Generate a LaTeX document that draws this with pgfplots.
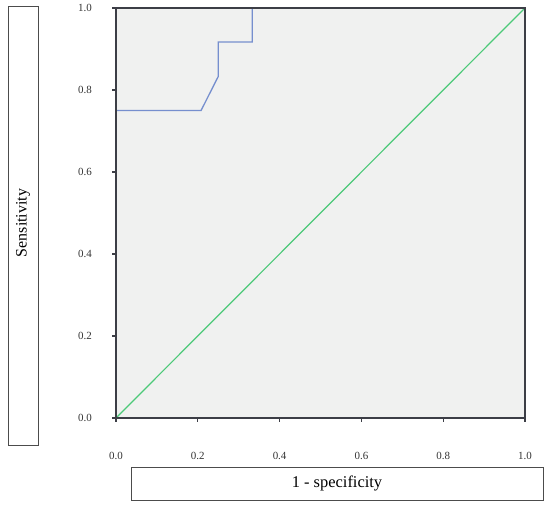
\documentclass[border=0pt]{standalone}
\usepackage{fontspec}
\setmainfont{Liberation Serif}
\usepackage{pgfplots}
\pgfplotsset{compat=1.18}
\definecolor{bgc}{RGB}{240,241,240}
\definecolor{roc}{RGB}{118,143,206}
\definecolor{ref}{RGB}{76,201,120}
\definecolor{frame}{RGB}{60,62,70}
\begin{document}
\begin{tikzpicture}[x=1bp,y=1bp]
\path[use as bounding box] (0,0) rectangle (550,506);
\begin{axis}[
  at={(116bp,88bp)}, anchor=south west,
  scale only axis, width=409bp, height=410bp,
  xmin=0, xmax=1, ymin=0, ymax=1,
  axis background/.style={fill=bgc},
  axis line style={frame, line width=1.3pt},
  xtick={0,0.2,0.4,0.6,0.8,1.0},
  ytick={0,0.2,0.4,0.6,0.8,1.0},
  xticklabels={0.0,0.2,0.4,0.6,0.8,1.0},
  yticklabels={0.0,0.2,0.4,0.6,0.8,1.0},
  tick align=outside, major tick length=4bp,
  tick style={frame, line width=1.3pt},
  xtick pos=bottom, ytick pos=left,
  /pgf/number format/assume math mode=true,
  tick label style={font=\fontsize{11}{13}\selectfont, text=black!80},
  xticklabel style={anchor=center, yshift=-34bp},
  yticklabel style={anchor=center, xshift=-27bp},
  clip=false,
  axis on top,
]
\addplot[ref, line width=1.2pt] coordinates {(0,0) (1,1)};
\addplot[roc, line width=1.3pt] coordinates {
  (0,0.75) (0.208,0.75) (0.25,0.833) (0.25,0.917)
  (0.333,0.917) (0.333,1.0) (1,1.0)};
\draw[black!50, line width=1.3pt] (rel axis cs:1,0) -- (rel axis cs:1,1);
\end{axis}
\draw[black!70, line width=0.8pt] (8,61) rectangle (38,500);
\node[rotate=90, font=\fontsize{16}{18}\selectfont] at (23,283) {Sensitivity};
\draw[black!70, line width=0.8pt] (131,6) rectangle (543,39);
\node[font=\fontsize{16.5}{18}\selectfont] at (337,23) {1 - specificity};
\end{tikzpicture}
\end{document}
